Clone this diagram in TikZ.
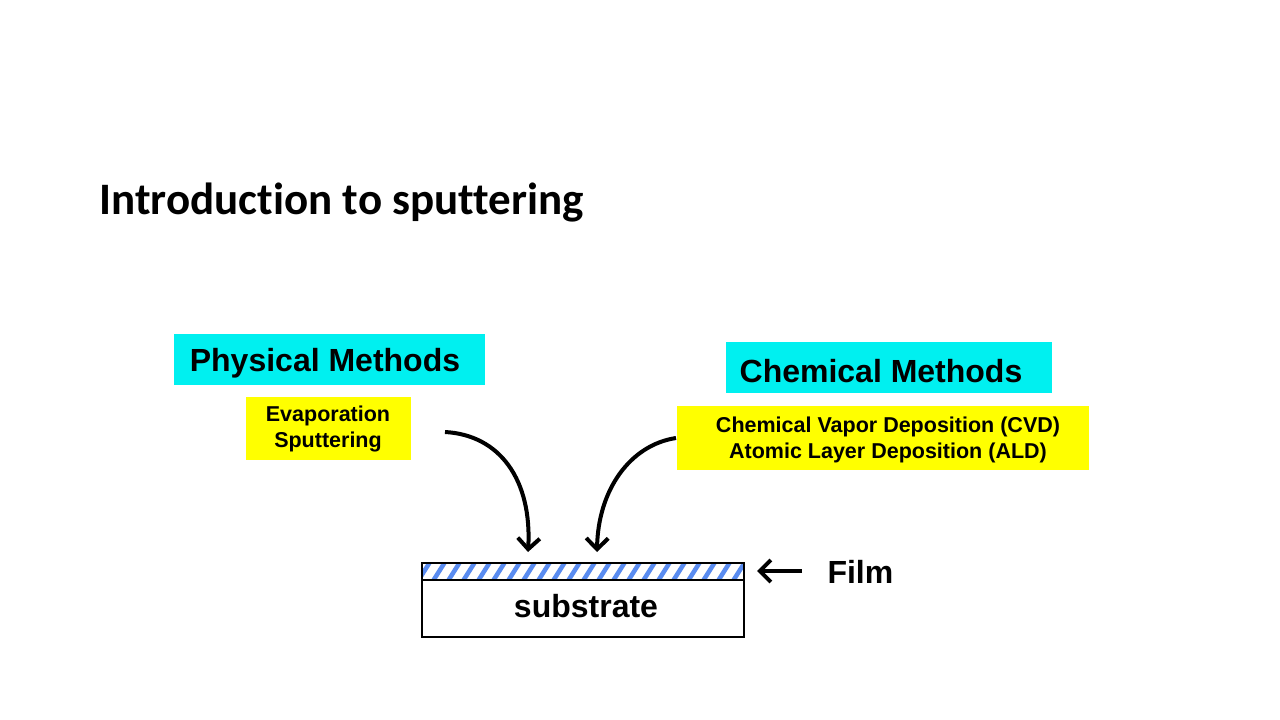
\documentclass[tikz,border=0pt]{standalone}
\usepackage{fontspec}
\setmainfont{Liberation Sans}
\newfontfamily\ttl{Carlito}[Ligatures=NoCommon]
\usetikzlibrary{arrows.meta,patterns}
\definecolor{cy}{HTML}{00F0F0}
\definecolor{yl}{HTML}{FFFF00}
\definecolor{hb}{HTML}{5A8CF0}
\begin{document}
\begin{tikzpicture}[x=1pt,y=-1pt,
  box/.style={inner sep=0,outer sep=0},
  big/.style={font=\fontsize{32}{36}\selectfont\bfseries},
  small/.style={font=\fontsize{21.5}{26}\selectfont\bfseries,align=center},
  arr/.style={line width=4pt,-{Straight Barb[length=11pt,width=22pt,line width=4pt]}}]
\useasboundingbox (0,0) rectangle (1280,720);
\node[anchor=base west,font=\ttl\fontsize{45}{50}\selectfont\bfseries] (title) at (96,214) {Introduction to sputtering};
\fill[cy] (174,334) rectangle (485,385);
\node[big] (pm) at (325,363) {Physical Methods};
\fill[yl] (246,397) rectangle (411,460);
\node[small] (ev) at (328,429) {Evaporation\\Sputtering};
\fill[cy] (726,342) rectangle (1052,393);
\node[big] (cm) at (881,371) {Chemical Methods};
\fill[yl] (677,406) rectangle (1089,470);
\node[small] (cvd) at (888,440) {Chemical Vapor Deposition (CVD)\\Atomic Layer Deposition (ALD)};
\fill[white] (422,563) rectangle (744,580);
\begin{scope}
\clip (422,563) rectangle (744,580);
\foreach \i in {0,...,22} \draw[hb,line width=4.5pt] (418+\i*15,581)--(430+\i*15,562);
\end{scope}
\draw[line width=2pt] (422,563) rectangle (744,637);
\draw[line width=2pt] (422,580)--(744,580);
\node[big] (sub) at (586,606) {substrate};
\coordinate (film) at (744,571);
\coordinate (fs) at (802,571);
\draw[arr] (fs)--(757,571);
\node[big,anchor=west] (fl) at (824,572) {Film};
\coordinate (a1) at (445,432);
\coordinate (a2) at (676,438);
\draw[arr] (a1) .. controls (500,435) and (532,480) .. (528,552);
\draw[arr] (a2) .. controls (630,445) and (598,490) .. (597,552);
\end{tikzpicture}
\end{document}
